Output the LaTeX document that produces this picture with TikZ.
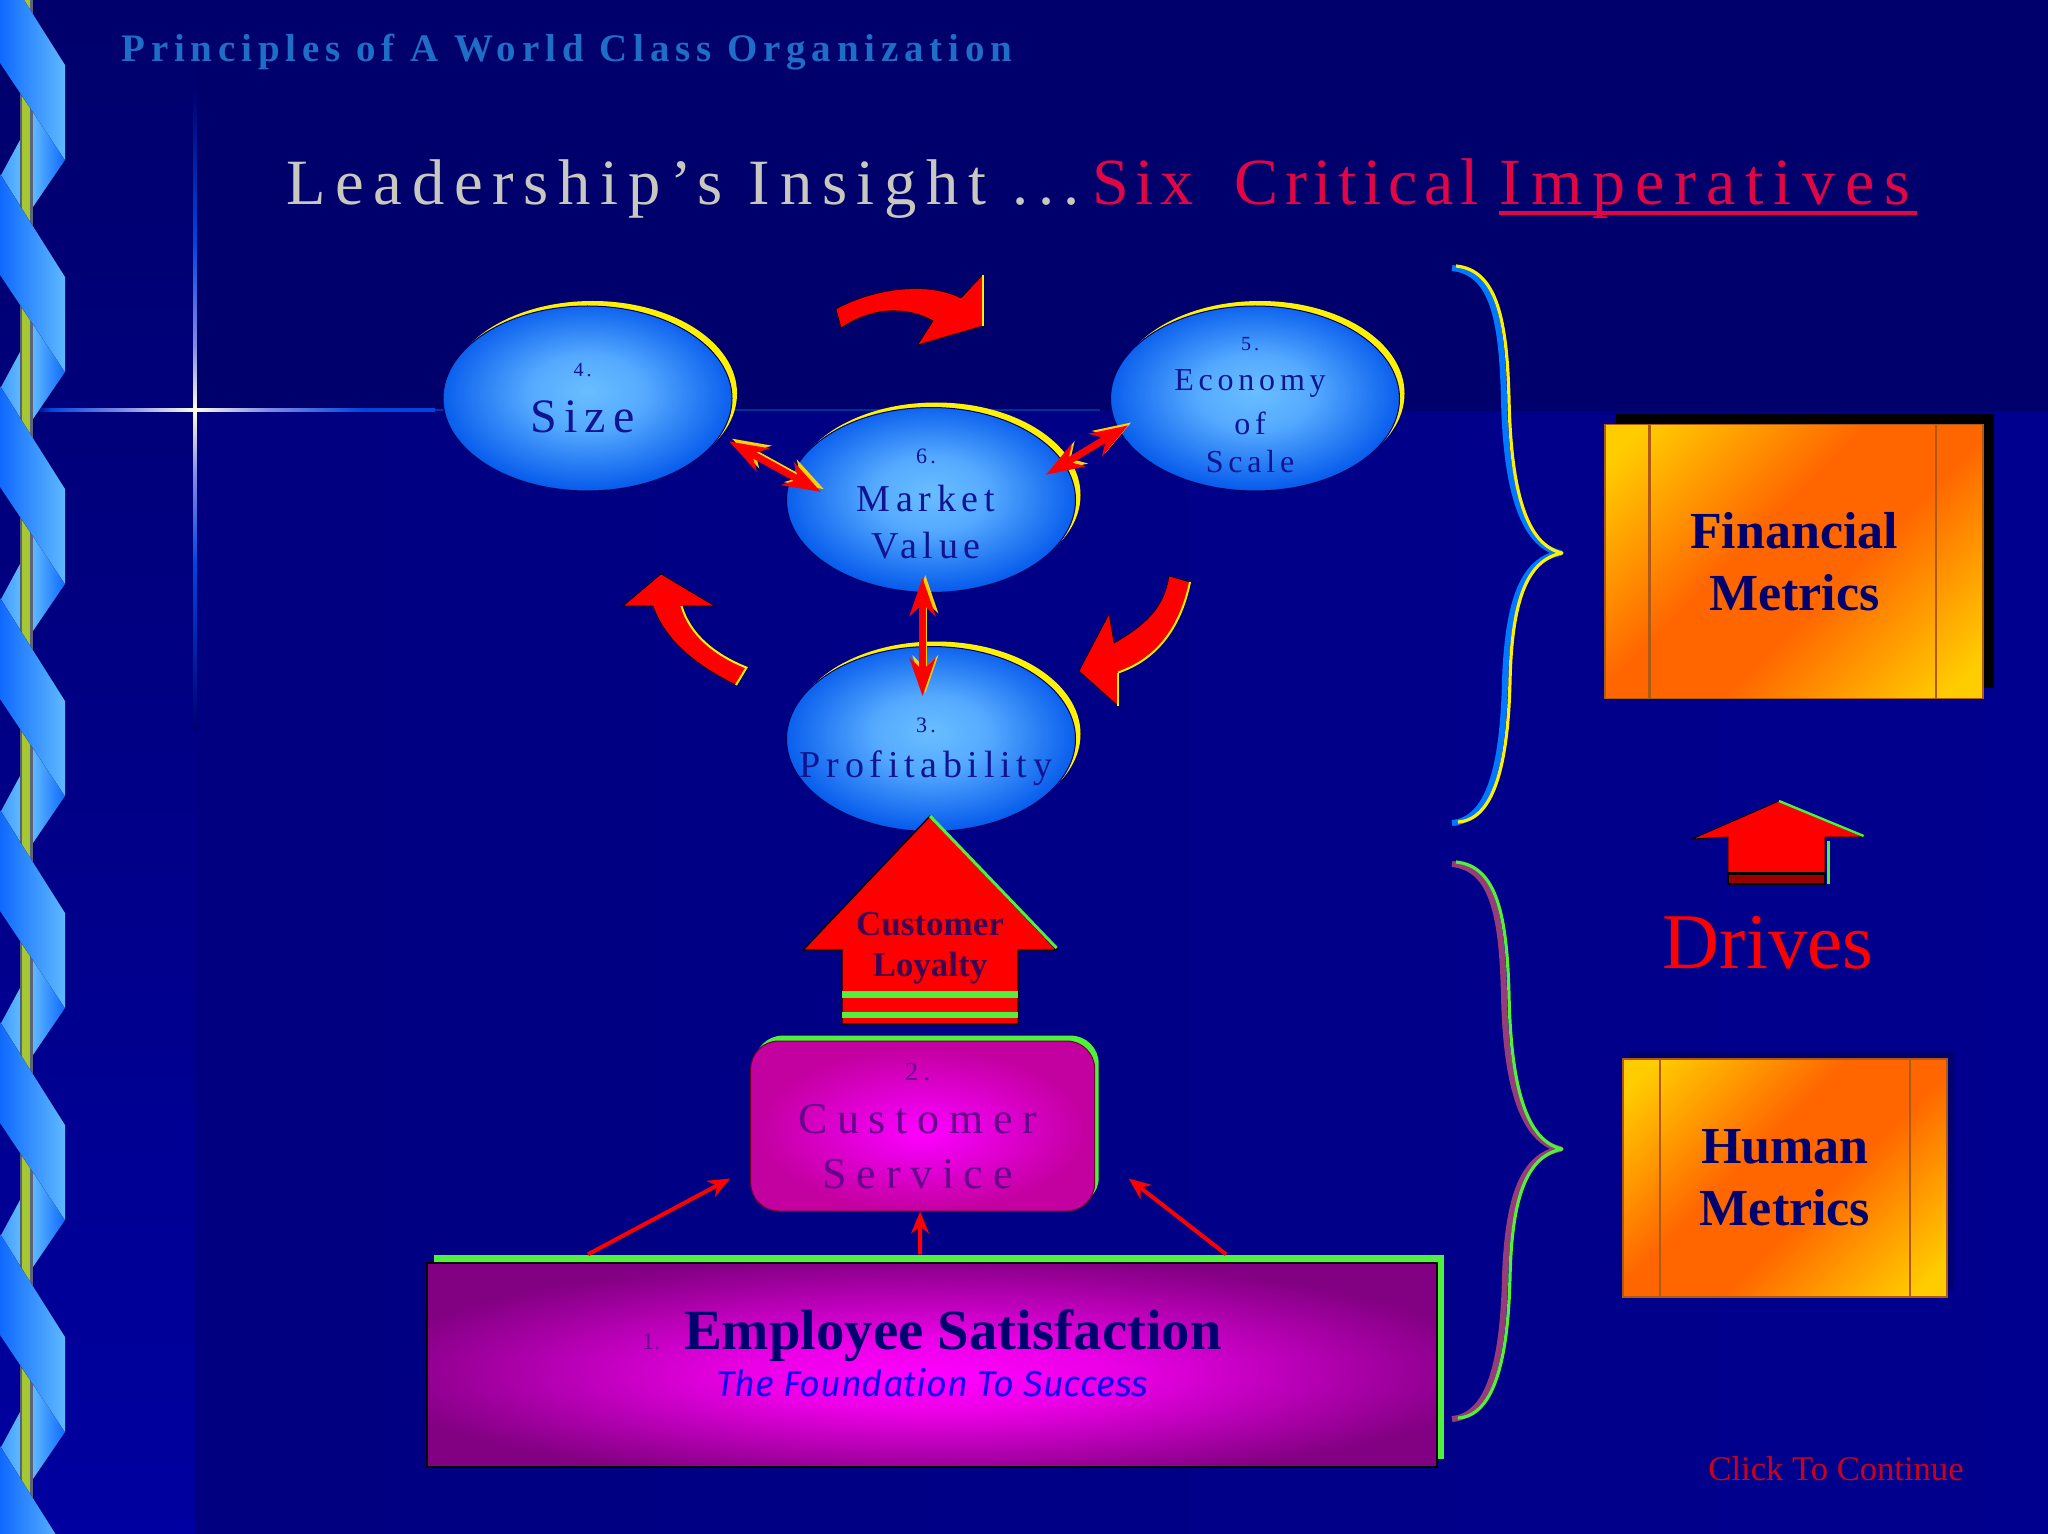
\documentclass[tikz,border=0pt]{standalone}
\usepackage{fontspec}
\setmainfont{Liberation Serif}
\newfontfamily\tightfont[LetterSpace=10]{Liberation Serif}
\newfontfamily\widefont[LetterSpace=15]{Liberation Serif}
\newfontfamily\widerfont[LetterSpace=22]{Liberation Serif}
\newfontfamily\handfont{Fira Sans}
\usetikzlibrary{arrows.meta}
\usetikzlibrary{shapes.geometric}
\usetikzlibrary{shadows}
\newcommand{\fs}[1]{\fontsize{#1}{#1}\selectfont}
\newcommand{\wl}{\hspace*{-5pt}}
\definecolor{topnavy}{RGB}{0,0,108}
\definecolor{midnavy}{RGB}{0,0,128}
\definecolor{rightnavy}{RGB}{0,0,142}
\definecolor{leftblue}{RGB}{0,0,160}
\definecolor{ballink}{RGB}{15,20,145}
\definecolor{boxink}{RGB}{0,0,110}
\definecolor{purpleink}{RGB}{100,0,140}
\definecolor{ribbonlight}{RGB}{95,185,255}
\definecolor{ribbondark}{RGB}{15,105,255}
\definecolor{rodgreen}{RGB}{165,200,50}
\definecolor{rodgray}{RGB}{95,100,125}
\definecolor{amber}{RGB}{255,204,0}
\definecolor{burnt}{RGB}{255,102,0}
\definecolor{edgeorange}{RGB}{175,90,20}
\definecolor{limeedge}{RGB}{80,240,60}
\definecolor{mauve}{RGB}{150,60,120}
\definecolor{skyedge}{RGB}{0,120,255}
\definecolor{pinkred}{RGB}{225,5,70}
\definecolor{headgray}{RGB}{200,200,190}
\definecolor{headblue}{RGB}{30,110,200}
\definecolor{clickred}{RGB}{205,0,25}
\definecolor{ballcore}{RGB}{105,190,255}
\definecolor{ballmid}{RGB}{85,170,255}
\definecolor{balledge}{RGB}{0,85,235}
\definecolor{magcore}{RGB}{255,0,255}
\definecolor{magmid}{RGB}{235,0,230}
\definecolor{serviceedge}{RGB}{195,0,160}
\definecolor{employeeedge}{RGB}{130,0,130}
\definecolor{sparknavy}{RGB}{0,0,112}
\definecolor{sparkblue}{RGB}{0,70,220}
\definecolor{sparklilac}{RGB}{130,140,230}
\definecolor{sparkwhite}{RGB}{255,255,225}
\pgfdeclareradialshading{ballglow}{\pgfpoint{0bp}{2bp}}{color(0bp)=(ballcore);color(10bp)=(ballmid);color(27bp)=(balledge);color(50bp)=(balledge)}
\pgfdeclareradialshading{serviceglow}{\pgfpoint{0bp}{-2bp}}{color(0bp)=(magcore);color(7bp)=(magmid);color(24bp)=(serviceedge);color(50bp)=(serviceedge)}
\pgfdeclareradialshading{employeeglow}{\pgfpoint{0bp}{-3bp}}{color(0bp)=(magcore);color(9bp)=(magmid);color(28bp)=(employeeedge);color(50bp)=(employeeedge)}
\pgfdeclareverticalshading{metricglow}{100bp}{color(0bp)=(amber);color(19bp)=(amber);color(43bp)=(burnt);color(57bp)=(burnt);color(81bp)=(amber);color(100bp)=(amber)}
\pgfdeclarehorizontalshading{sparkh}{100bp}{color(0bp)=(sparknavy);color(25bp)=(sparknavy);color(27bp)=(sparkblue);color(36bp)=(sparklilac);color(45bp)=(sparkwhite);color(54bp)=(sparklilac);color(66bp)=(sparkblue);color(75bp)=(sparkblue);color(100bp)=(sparkblue)}
\pgfdeclareverticalshading{sparkv}{100bp}{color(0bp)=(sparknavy);color(25bp)=(sparknavy);color(38bp)=(sparkblue);color(45bp)=(sparklilac);color(50bp)=(sparkwhite);color(55bp)=(sparklilac);color(63bp)=(sparkblue);color(75bp)=(sparknavy);color(100bp)=(sparknavy)}
\begin{document}
\begin{tikzpicture}[x=.5pt,y=-.5pt,
    goal/.style={ellipse, minimum width=144.5pt, minimum height=92.5pt, inner sep=-15pt, shading=ballglow, align=center,
        text=ballink, font=\widefont, draw=black!60!blue, line width=.5pt,
        general shadow={fill=yellow, shadow xshift=2.5pt, shadow yshift=2.5pt}},
    metric/.style={rectangle, inner sep=0pt, align=center, text=boxink, font=\bfseries\fs{26},
        draw=edgeorange, line width=.8pt, shading=metricglow, shading angle=45},
    panel/.style={edgeorange, line width=1.1pt},
    turn/.style={fill=red, draw=black, line width=.3pt},
    biarrow/.style={{Stealth[length=19pt,width=13pt]}-{Stealth[length=19pt,width=13pt]}, draw=red, line width=3.5pt,
        preaction={draw=yellow!70!orange, line width=1.5pt, transform canvas={xshift=1.4pt,yshift=1.4pt}}},
    thinarrow/.style={-{Stealth[length=11pt,width=9pt]}, draw=red, line width=2pt}]
\useasboundingbox (0,0) rectangle (2048,1534);
% backdrop
\fill[topnavy] (0,0) rectangle (2048,412);
\fill[left color=midnavy, right color=rightnavy] (195,412) rectangle (2048,1534);
\fill[top color=topnavy, bottom color=leftblue] (0,0) rectangle (195,1534);
\fill[shading=sparkv] (193.5,90) rectangle (196.5,730);
\fill[shading=sparkh] (35,408.5) rectangle (435,411.5);
\fill[sparkblue!70!black] (435,409) rectangle (1100,411);
% ribbon
\fill[rodgray] (20,0) rectangle (33,1534);
\fill[rodgreen] (22,0) rectangle (30,1534);
\foreach \k in {0,...,7}{
    \begin{scope}[shift={(0,212*\k)}]
    \fill[left color=ribbonlight, right color=ribbondark] (33,110) -- (65,160) -- (33,207) -- cycle;
    \fill[left color=ribbondark!40!ribbonlight, right color=ribbonlight] (0,177) -- (20,140) -- (20,207) -- cycle;
    \fill[left color=ribbondark, right color=ribbonlight] (0,-38) -- (65,65) -- (65,160) -- (0,63) -- cycle;
    \end{scope}
}
% headings
\node[anchor=base west, inner sep=0pt, text=headblue, font=\widefont\bfseries\fs{19.5}] (n_head) at (121,62) {Principles of A World Class Organization};
\node[anchor=base west, inner sep=0pt, text=headgray, font=\widefont\fs{32.3}] (n_lead) at (286,205) {Leadership’s Insight ...};
\node[anchor=base west, inner sep=0pt, text=pinkred, font=\tightfont\fs{33}] (n_six) at (1092,205) {Six\hspace{9pt} Critical};
\node[anchor=base west, inner sep=0pt, text=pinkred, font=\widefont\fs{33}] (n_imp) at (1499,205) {Imperatives};
\draw[pinkred, line width=1.6pt] (n_imp.base west) ++(0,8) -- ++(418,0);
% goals
\node[goal] (n_size) at (587.5,398.5) {\wl\fs{10}4.\\[11pt]\wl\fs{24}Size};
\node[goal] (n_economy) at (1255,398.5) {\rule{0pt}{13pt}\wl\fs{10}5.\\[8pt]\wl\fs{16}Economy\\[6pt]\wl\fs{16}of\\[7pt]\wl\fs{16}Scale};
\node[goal] (n_market) at (931,500) {\rule{0pt}{11pt}\wl\fs{11}6.\\[10pt]\wl\fs{19}Market\\[9pt]\wl\fs{19}Value};
\node[goal] (n_profit) at (931,739) {\rule{0pt}{20pt}\wl\fs{11}3.\\[8pt]\wl\fs{19}Profitability};
\draw[biarrow] ([shift={(5.5pt,-1.5pt)}]n_size.-17) -- ([shift={(16.8pt,-2.25pt)}]n_market.175);
\draw[biarrow] ([shift={(-9.5pt,-5.3pt)}]n_market.15) -- ([shift={(3.5pt,4.5pt)}]n_economy.195);
\draw[biarrow, shorten <=-7.5pt, shorten >=-25pt] ([xshift=-4.25pt]n_market.south) -- ([xshift=-4.25pt]n_profit.north);
% curved block arrows
\draw[turn] (836,309) .. controls (870,290) and (925,280) .. (961,298) -- (982.5,275) -- (982.5,326) -- (917.5,345) -- (933,321) .. controls (905,305) and (870,308) .. (841,328) -- cycle;
\draw[yellow, line width=1pt] (982.5,275) -- (982.5,326);
\draw[turn] (1169,576) .. controls (1165,600) and (1155,620) .. (1114,643) -- (1109,614) -- (1079,671) -- (1118,706) -- (1118,672.5) .. controls (1155,660) and (1180,630) .. (1190,582) -- cycle;
\draw[yellow, line width=1pt] (1118,672.5) .. controls (1155,660) and (1180,630) .. (1190,582);
\draw[yellow, line width=1pt] (1118,672.5) -- (1118,706);
\draw[turn] (736,685) .. controls (695,665) and (665,640) .. (653,606) -- (623,606) -- (661,574) -- (714.6,606) -- (681.5,606) .. controls (690,635) and (715,655) .. (746.5,667.6) -- cycle;
\draw[yellow, line width=1pt] (681.5,606) .. controls (690,635) and (715,655) .. (746.5,667.6) -- (736,685);
% loyalty arrow
\draw[fill=red, draw=black, line width=.7pt] (930,816) -- (1056.6,950) -- (1018,950) -- (1018,1024) -- (842,1024) -- (842,950) -- (803,950) -- cycle;
\fill[limeedge] (842,991) rectangle (1018,997.5);
\fill[limeedge] (842,1011.6) rectangle (1018,1017.7);
\draw[limeedge, line width=1.5pt] (930,816) -- (1056.6,948);
\node[inner sep=0pt, align=center, text=purpleink!60!black, font=\bfseries\fs{17.5}] (n_loyalty) at (930,948) {Customer\\[3pt]Loyalty};
% service and employee boxes
\node[rectangle, rounded corners=14pt, minimum width=172pt, minimum height=85pt, inner sep=0pt, shading=serviceglow, align=center,
    text=purpleink, font=\widerfont, draw=black!40!purple, line width=.5pt,
    general shadow={fill=limeedge, shadow xshift=2pt, shadow yshift=2.7pt}] (n_service) at (922.7,1126)
    {\wl\fs{13}2.\\[10.5pt]\wl\fs{22}Customer\\[11.7pt]\wl\fs{22}Service};
\node[rectangle, minimum width=505pt, minimum height=101.7pt, inner sep=0pt, shading=employeeglow, align=center,
    text=boxink, draw=black, line width=1pt,
    general shadow={fill=limeedge, shadow xshift=3.7pt, shadow yshift=4pt}] (n_employee) at (932,1365)
    {{\fs{12}\color{purpleink}1.}\hspace{12pt}\bfseries\fs{28.4}Employee Satisfaction\\[2.5pt]\handfont\itshape\fs{18}\color{blue!90!purple}The Foundation To Success\\[0pt]\rule{0pt}{8pt}};
\draw[thinarrow] ([shift={(-172pt,4pt)}]n_employee.north) -- ([shift={(-10pt,16.5pt)}]n_service.south west);
\draw[thinarrow] ([shift={(-6pt,4pt)}]n_employee.north) -- ([xshift=-1.3pt]n_service.south);
\draw[thinarrow] ([shift={(147pt,4pt)}]n_employee.north) -- ([shift={(16.75pt,16.5pt)}]n_service.south east);
% braces
\foreach \yoff/\inner/\outer in {0/skyedge/yellow, 596/mauve/limeedge}{
    \begin{scope}[shift={(0,\yoff)}, line join=round]
    \draw[\inner, line width=3pt] (1452,268) .. controls (1493,272) and (1502,320) .. (1504,400) .. controls (1506,490) and (1523,545) .. (1560,553) .. controls (1523,560) and (1508,600) .. (1505,680) .. controls (1503,770) and (1488,820) .. (1452,823);
    \draw[\outer, line width=1.6pt] (1456,266) .. controls (1497,270) and (1507,320) .. (1509,400) .. controls (1511,490) and (1526,545) .. (1562,553) .. controls (1527,560) and (1512,600) .. (1510,680) .. controls (1508,770) and (1492,820) .. (1458,822);
    \end{scope}
}
% metrics
\node[metric, minimum width=189pt, minimum height=137pt, general shadow={fill=black, shadow xshift=5.3pt, shadow yshift=5.2pt}] (n_financial) at (1794.2,561.5) {Financial\\[5pt]Metrics};
\draw[panel] ([xshift=22.5pt]n_financial.south west) -- ([xshift=22.5pt]n_financial.north west);
\draw[panel] ([xshift=-24pt]n_financial.south east) -- ([xshift=-24pt]n_financial.north east);
\node[metric, minimum width=162pt, minimum height=119pt, general shadow={fill=boxink, shadow xshift=3.5pt, shadow yshift=3.5pt}] (n_human) at (1785,1178) {Human\\[5pt]Metrics};
\draw[panel] ([xshift=19pt]n_human.south west) -- ([xshift=19pt]n_human.north west);
\draw[panel] ([xshift=-19pt]n_human.south east) -- ([xshift=-19pt]n_human.north east);
% drives
\draw[fill=red, draw=black, line width=.4pt] (1779,801) -- (1863.6,837) -- (1825,837) -- (1825,872.5) -- (1728,872.5) -- (1728,837) -- (1692,839) -- cycle;
\draw[fill=red!60!black, draw=black, line width=.8pt] (1728,874) rectangle (1825,884);
\draw[limeedge, line width=1.2pt] (1779,801) -- (1863.6,836);
\draw[limeedge, line width=1.5pt] (1828,841) -- (1828,884);
\node[inner sep=0pt, text=red, font=\fs{39.5}] (n_drives) at (1768,943) {Drives};
\node[inner sep=0pt, text=clickred, font=\fs{17.3}] (n_click) at (1836,1469) {Click To Continue};
\end{tikzpicture}
\end{document}
